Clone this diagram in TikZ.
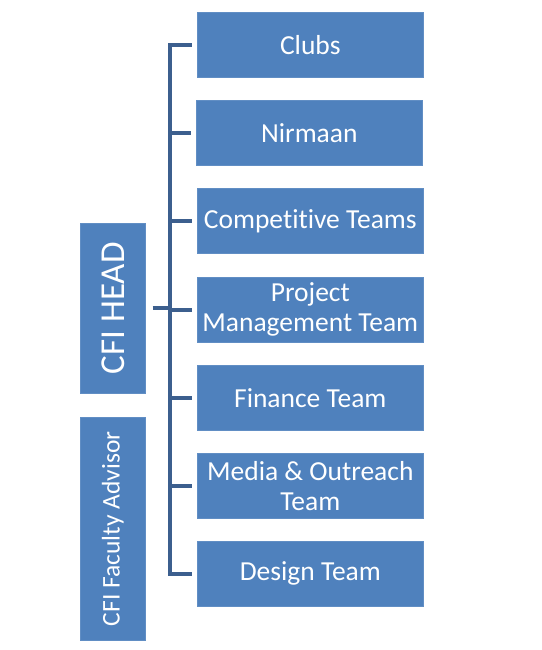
\documentclass[tikz,border=0pt]{standalone}
\usepackage{fontspec}
\setmainfont[Ligatures=NoCommon]{Carlito}
\definecolor{boxblue}{HTML}{4F81BD}
\definecolor{lineblue}{HTML}{3C5F8E}
\begin{document}
\begin{tikzpicture}[x=1pt,y=-1pt,
  team/.style={fill=boxblue,draw=boxblue!90!white,line width=0.6pt,minimum width=226pt,minimum height=65pt,
    text=white,align=center,font=\fontsize{27.5}{30}\selectfont,inner sep=2pt,anchor=north west},
  vbox/.style={fill=boxblue,draw=boxblue!90!white,line width=0.6pt,text=white,anchor=north west,inner sep=0pt},
  conn/.style={draw=lineblue,line width=4pt}]
\useasboundingbox (0,0) rectangle (541,650);
\node[team] (clubs) at (197,12) {Clubs};
\node[team] (nir) at (196,100) {Nirmaan};
\node[team] (comp) at (197,188) {Competitive Teams};
\node[team] (proj) at (197,277) {Project\\Management Team};
\node[team] (fin) at (197,365) {Finance Team};
\node[team] (media) at (197,453) {Media \& Outreach\\Team};
\node[team] (des) at (197,541) {Design Team};
\node[vbox,minimum width=65pt,minimum height=170pt] (head) at (80,223) {};
\node[rotate=90,text=white,font=\fontsize{35}{40}\selectfont] (headt) at (head.center) {CFI HEAD};
\node[vbox,minimum width=65pt,minimum height=223pt] (adv) at (80,417) {};
\node[rotate=90,text=white,font=\fontsize{25.5}{28}\selectfont] (advt) at (adv.center) {CFI Faculty Advisor};
\coordinate (top) at (170,0);
\draw[conn,line cap=rect] (clubs.west -| top) coordinate (t1) -- (des.west -| top) coordinate (t2);
\foreach \n in {clubs,nir,comp,proj,fin,media,des}{
  \draw[conn] ([xshift=-2pt]\n.west -| top) -- ([xshift=-5pt]\n.west);
}
\draw[conn] (head.east) ++(7pt,0) coordinate (h1) -- (h1 -| top);
\end{tikzpicture}
\end{document}
